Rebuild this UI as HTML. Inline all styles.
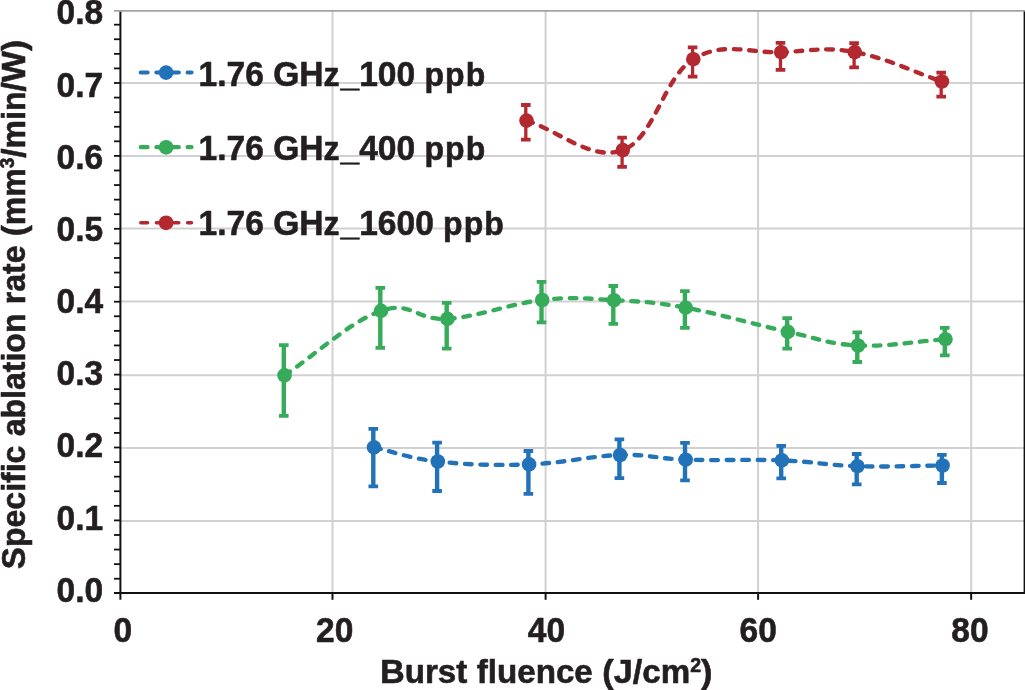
<!DOCTYPE html>
<html lang="en"><head><meta charset="utf-8"><title>Specific ablation rate vs burst fluence</title>
<style>html,body{margin:0;padding:0;background:#fff;overflow:hidden}svg{display:block}</style></head>
<body>
<svg width="1025" height="690" viewBox="0 0 1025 690" font-family="'Liberation Sans', sans-serif" font-weight="bold" fill="#231f20">
<rect width="1025" height="690" fill="#fff"/>
<g stroke="#d1d1d3" stroke-width="2" fill="none">
<line x1="332.50" y1="11" x2="332.50" y2="593"/>
<line x1="545.60" y1="11" x2="545.60" y2="593"/>
<line x1="758.10" y1="11" x2="758.10" y2="593"/>
<line x1="971.15" y1="11" x2="971.15" y2="593"/>
<line x1="120" y1="520.9" x2="1024" y2="520.9"/>
<line x1="120" y1="448.1" x2="1024" y2="448.1"/>
<line x1="120" y1="375.2" x2="1024" y2="375.2"/>
<line x1="120" y1="301.6" x2="1024" y2="301.6"/>
<line x1="120" y1="228.5" x2="1024" y2="228.5"/>
<line x1="120" y1="155.9" x2="1024" y2="155.9"/>
<line x1="120" y1="83.0" x2="1024" y2="83.0"/>
</g>
<line x1="114" y1="10.95" x2="1025" y2="10.95" stroke="#a3a3a5" stroke-width="1.8"/>
<g stroke="#111" stroke-width="2" fill="none">
<line x1="120.4" y1="11.8" x2="120.4" y2="599.8"/>
<line x1="114" y1="593" x2="1025" y2="593"/>
<line x1="1024.6" y1="11.4" x2="1024.6" y2="594"/>
<line x1="332.50" y1="593" x2="332.50" y2="599.8"/>
<line x1="545.60" y1="593" x2="545.60" y2="599.8"/>
<line x1="758.10" y1="593" x2="758.10" y2="599.8"/>
<line x1="971.15" y1="593" x2="971.15" y2="599.8"/>
</g>
<g stroke="#111" stroke-width="1.8" fill="none">
<line x1="114" y1="578.72" x2="120.4" y2="578.72"/>
<line x1="114" y1="564.14" x2="120.4" y2="564.14"/>
<line x1="114" y1="549.56" x2="120.4" y2="549.56"/>
<line x1="114" y1="534.98" x2="120.4" y2="534.98"/>
<line x1="114" y1="520.40" x2="120.4" y2="520.40"/>
<line x1="114" y1="505.82" x2="120.4" y2="505.82"/>
<line x1="114" y1="491.24" x2="120.4" y2="491.24"/>
<line x1="114" y1="476.66" x2="120.4" y2="476.66"/>
<line x1="114" y1="462.08" x2="120.4" y2="462.08"/>
<line x1="114" y1="447.50" x2="120.4" y2="447.50"/>
<line x1="114" y1="432.92" x2="120.4" y2="432.92"/>
<line x1="114" y1="418.34" x2="120.4" y2="418.34"/>
<line x1="114" y1="403.76" x2="120.4" y2="403.76"/>
<line x1="114" y1="389.18" x2="120.4" y2="389.18"/>
<line x1="114" y1="374.60" x2="120.4" y2="374.60"/>
<line x1="114" y1="360.02" x2="120.4" y2="360.02"/>
<line x1="114" y1="345.44" x2="120.4" y2="345.44"/>
<line x1="114" y1="330.86" x2="120.4" y2="330.86"/>
<line x1="114" y1="316.28" x2="120.4" y2="316.28"/>
<line x1="114" y1="301.70" x2="120.4" y2="301.70"/>
<line x1="114" y1="287.12" x2="120.4" y2="287.12"/>
<line x1="114" y1="272.54" x2="120.4" y2="272.54"/>
<line x1="114" y1="257.96" x2="120.4" y2="257.96"/>
<line x1="114" y1="243.38" x2="120.4" y2="243.38"/>
<line x1="114" y1="228.80" x2="120.4" y2="228.80"/>
<line x1="114" y1="214.22" x2="120.4" y2="214.22"/>
<line x1="114" y1="199.64" x2="120.4" y2="199.64"/>
<line x1="114" y1="185.06" x2="120.4" y2="185.06"/>
<line x1="114" y1="170.48" x2="120.4" y2="170.48"/>
<line x1="114" y1="155.90" x2="120.4" y2="155.90"/>
<line x1="114" y1="141.32" x2="120.4" y2="141.32"/>
<line x1="114" y1="126.74" x2="120.4" y2="126.74"/>
<line x1="114" y1="112.16" x2="120.4" y2="112.16"/>
<line x1="114" y1="97.58" x2="120.4" y2="97.58"/>
<line x1="114" y1="83.00" x2="120.4" y2="83.00"/>
<line x1="114" y1="68.42" x2="120.4" y2="68.42"/>
<line x1="114" y1="53.84" x2="120.4" y2="53.84"/>
<line x1="114" y1="39.26" x2="120.4" y2="39.26"/>
<line x1="114" y1="24.68" x2="120.4" y2="24.68"/>
</g>
<g stroke="#2272b9" fill="none">
<path d="M373.3,428.9 V486.3" stroke-width="4.4"/><path d="M368.5,428.9 H378.1 M368.5,486.3 H378.1" stroke-width="3.8"/>
<path d="M437.1,442.6 V491.0" stroke-width="4.4"/><path d="M432.3,442.6 H441.9 M432.3,491.0 H441.9" stroke-width="3.8"/>
<path d="M528.4,451.0 V493.9" stroke-width="4.4"/><path d="M523.6,451.0 H533.2 M523.6,493.9 H533.2" stroke-width="3.8"/>
<path d="M619.4,439.4 V478.1" stroke-width="4.4"/><path d="M614.6,439.4 H624.2 M614.6,478.1 H624.2" stroke-width="3.8"/>
<path d="M685.0,442.8 V480.3" stroke-width="4.4"/><path d="M680.2,442.8 H689.8 M680.2,480.3 H689.8" stroke-width="3.8"/>
<path d="M781.2,445.8 V478.3" stroke-width="4.4"/><path d="M776.4,445.8 H786.0 M776.4,478.3 H786.0" stroke-width="3.8"/>
<path d="M856.7,454.0 V484.4" stroke-width="4.4"/><path d="M851.9,454.0 H861.5 M851.9,484.4 H861.5" stroke-width="3.8"/>
<path d="M941.9,454.8 V483.0" stroke-width="4.4"/><path d="M937.1,454.8 H946.7 M937.1,483.0 H946.7" stroke-width="3.8"/>
<path d="M374.00,447.40 C395.27,452.10 408.33,458.27 437.80,461.50 C467.27,464.73 494.46,465.63 529.10,464.40 C563.74,463.16 590.35,455.89 620.10,455.00 C649.85,454.11 654.96,458.67 685.70,459.70 C716.44,460.73 749.28,459.16 781.90,460.40 C814.52,461.63 826.87,465.23 857.40,466.20 C887.93,467.17 914.20,465.73 942.60,465.50" stroke-width="4.35" stroke-linecap="round" stroke-dasharray="6.7 8.75"/>
</g>
<g fill="#2272b9">
<circle cx="374.0" cy="447.4" r="7.3"/>
<circle cx="437.8" cy="461.5" r="7.3"/>
<circle cx="529.1" cy="464.4" r="7.3"/>
<circle cx="620.1" cy="455.0" r="7.3"/>
<circle cx="685.7" cy="459.7" r="7.3"/>
<circle cx="781.9" cy="460.4" r="7.3"/>
<circle cx="857.4" cy="466.2" r="7.3"/>
<circle cx="942.6" cy="465.5" r="7.3"/>
</g>
<g stroke="#36ab5a" fill="none">
<path d="M283.8,345.2 V415.9" stroke-width="4.4"/><path d="M279.0,345.2 H288.6 M279.0,415.9 H288.6" stroke-width="3.8"/>
<path d="M380.3,287.9 V347.9" stroke-width="4.4"/><path d="M375.5,287.9 H385.1 M375.5,347.9 H385.1" stroke-width="3.8"/>
<path d="M446.7,302.8 V348.6" stroke-width="4.4"/><path d="M441.9,302.8 H451.5 M441.9,348.6 H451.5" stroke-width="3.8"/>
<path d="M541.5,281.9 V322.4" stroke-width="4.4"/><path d="M536.7,281.9 H546.3 M536.7,322.4 H546.3" stroke-width="3.8"/>
<path d="M613.3,286.0 V323.8" stroke-width="4.4"/><path d="M608.5,286.0 H618.1 M608.5,323.8 H618.1" stroke-width="3.8"/>
<path d="M684.9,291.1 V327.9" stroke-width="4.4"/><path d="M680.1,291.1 H689.7 M680.1,327.9 H689.7" stroke-width="3.8"/>
<path d="M787.2,318.2 V348.6" stroke-width="4.4"/><path d="M782.4,318.2 H792.0 M782.4,348.6 H792.0" stroke-width="3.8"/>
<path d="M857.3,332.3 V362.0" stroke-width="4.4"/><path d="M852.5,332.3 H862.1 M852.5,362.0 H862.1" stroke-width="3.8"/>
<path d="M944.8,327.9 V355.3" stroke-width="4.4"/><path d="M940.0,327.9 H949.6 M940.0,355.3 H949.6" stroke-width="3.8"/>
<path d="M284.50,375.30 C316.67,353.83 350.05,321.62 381.00,310.90 C411.95,300.18 416.77,320.97 447.40,318.90 C478.03,316.83 510.55,303.55 542.20,300.00 C573.85,296.45 586.75,298.74 614.00,300.20 C641.25,301.66 652.56,301.70 685.60,307.70 C718.64,313.70 755.14,324.62 787.90,331.80 C820.66,338.98 828.06,344.09 858.00,345.50 C887.94,346.91 916.33,341.30 945.50,339.20" stroke-width="4.35" stroke-linecap="round" stroke-dasharray="6.7 8.75"/>
</g>
<g fill="#36ab5a">
<circle cx="284.5" cy="375.3" r="7.3"/>
<circle cx="381.0" cy="310.9" r="7.3"/>
<circle cx="447.4" cy="318.9" r="7.3"/>
<circle cx="542.2" cy="300.0" r="7.3"/>
<circle cx="614.0" cy="300.2" r="7.3"/>
<circle cx="685.6" cy="307.7" r="7.3"/>
<circle cx="787.9" cy="331.8" r="7.3"/>
<circle cx="858.0" cy="345.5" r="7.3"/>
<circle cx="945.5" cy="339.2" r="7.3"/>
</g>
<g stroke="#b42830" fill="none">
<path d="M525.8,105.0 V139.7" stroke-width="3.3"/><path d="M521.0,105.0 H530.6 M521.0,139.7 H530.6" stroke-width="3.8"/>
<path d="M622.1,137.7 V166.9" stroke-width="3.3"/><path d="M617.3,137.7 H626.9 M617.3,166.9 H626.9" stroke-width="3.8"/>
<path d="M692.6,47.3 V76.6" stroke-width="3.3"/><path d="M687.8,47.3 H697.4 M687.8,76.6 H697.4" stroke-width="3.8"/>
<path d="M780.5,42.9 V69.9" stroke-width="3.3"/><path d="M775.7,42.9 H785.3 M775.7,69.9 H785.3" stroke-width="3.8"/>
<path d="M854.1,43.1 V67.4" stroke-width="3.3"/><path d="M849.3,43.1 H858.9 M849.3,67.4 H858.9" stroke-width="3.8"/>
<path d="M941.2,72.7 V96.7" stroke-width="3.3"/><path d="M936.4,72.7 H946.0 M936.4,96.7 H946.0" stroke-width="3.8"/>
<path d="M526.50,120.60 C558.60,130.43 591.11,161.77 622.80,150.10 C654.49,138.43 663.20,77.80 693.30,59.20 C723.40,40.60 750.52,53.55 781.20,52.20 C811.88,50.85 824.27,46.53 854.80,52.10 C885.33,57.67 912.87,71.70 941.90,81.50" stroke-width="4.35" stroke-linecap="round" stroke-dasharray="6.7 8.75"/>
</g>
<g fill="#b42830">
<circle cx="526.5" cy="120.6" r="7.3"/>
<circle cx="622.8" cy="150.1" r="7.3"/>
<circle cx="693.3" cy="59.2" r="7.3"/>
<circle cx="781.2" cy="52.2" r="7.3"/>
<circle cx="854.8" cy="52.1" r="7.3"/>
<circle cx="941.9" cy="81.5" r="7.3"/>
</g>
<g stroke="#231f20" stroke-width="0.6" stroke-linejoin="round">
<text transform="translate(198.60,85.60) scale(0.9780,1)" font-size="34.3" text-anchor="start">1.76 GH<tspan font-size="32.69" letter-spacing="1.1">z</tspan>_100 <tspan font-size="32.69" letter-spacing="1.1">ppb</tspan></text>
<text transform="translate(198.60,159.70) scale(0.9780,1)" font-size="34.3" text-anchor="start">1.76 GH<tspan font-size="32.69" letter-spacing="1.1">z</tspan>_400 <tspan font-size="32.69" letter-spacing="1.1">ppb</tspan></text>
<text transform="translate(198.60,234.60) scale(0.9780,1)" font-size="34.3" text-anchor="start">1.76 GH<tspan font-size="32.69" letter-spacing="1.1">z</tspan>_1600 <tspan font-size="32.69" letter-spacing="1.1">ppb</tspan></text>
<text transform="translate(103.10,601.80) scale(0.9475,1)" font-size="35.4" text-anchor="end">0.0</text>
<text transform="translate(103.10,529.63) scale(0.9475,1)" font-size="35.4" text-anchor="end">0.1</text>
<text transform="translate(103.10,457.46) scale(0.9475,1)" font-size="35.4" text-anchor="end">0.2</text>
<text transform="translate(103.10,385.29) scale(0.9475,1)" font-size="35.4" text-anchor="end">0.3</text>
<text transform="translate(103.10,313.12) scale(0.9475,1)" font-size="35.4" text-anchor="end">0.4</text>
<text transform="translate(103.10,240.95) scale(0.9475,1)" font-size="35.4" text-anchor="end">0.5</text>
<text transform="translate(103.10,168.78) scale(0.9475,1)" font-size="35.4" text-anchor="end">0.6</text>
<text transform="translate(103.10,96.61) scale(0.9475,1)" font-size="35.4" text-anchor="end">0.7</text>
<text transform="translate(103.10,24.44) scale(0.9475,1)" font-size="35.4" text-anchor="end">0.8</text>
<text transform="translate(122.90,641.80) scale(0.9475,1)" font-size="35.4" text-anchor="middle">0</text>
<text transform="translate(334.65,641.80) scale(0.9475,1)" font-size="35.4" text-anchor="middle">20</text>
<text transform="translate(546.40,641.80) scale(0.9475,1)" font-size="35.4" text-anchor="middle">40</text>
<text transform="translate(758.15,641.80) scale(0.9475,1)" font-size="35.4" text-anchor="middle">60</text>
<text transform="translate(969.90,641.80) scale(0.9475,1)" font-size="35.4" text-anchor="middle">80</text>
<text transform="translate(379.90,682.70) scale(1.0090,1)" font-size="34.0" text-anchor="start">B<tspan font-size="32.84">urst</tspan> <tspan font-size="32.84">fluence</tspan> (J/<tspan font-size="32.84">cm</tspan><tspan font-size="19.4" dy="-11.2">2</tspan><tspan dy="11.2">)</tspan></text>
<text transform="translate(25.40,569.20) rotate(-90) scale(0.9760,1)" font-size="34.0" text-anchor="start">S<tspan font-size="32.84">pecific</tspan> <tspan font-size="32.84">ablation</tspan> <tspan font-size="32.84">rate</tspan> (<tspan font-size="32.84">mm</tspan><tspan font-size="19.4" dy="-11.2">3</tspan><tspan dy="11.2">/<tspan font-size="32.84">min</tspan>/W)</tspan></text>
</g>
<path d="M140.8,72.5 H191.5" stroke="#2272b9" stroke-width="4.2" stroke-linecap="round" stroke-dasharray="6.8 8.8" fill="none"/>
<circle cx="166.1" cy="72.6" r="7.35" fill="#2272b9"/>
<path d="M140.8,147.2 H191.5" stroke="#36ab5a" stroke-width="4.2" stroke-linecap="round" stroke-dasharray="6.8 8.8" fill="none"/>
<circle cx="166.1" cy="147.3" r="7.35" fill="#36ab5a"/>
<path d="M140.8,222.7 H191.5" stroke="#b42830" stroke-width="3.5" stroke-linecap="round" stroke-dasharray="6.8 8.8" fill="none"/>
<circle cx="166.1" cy="222.8" r="7.35" fill="#b42830"/>
</svg>
</body></html>
